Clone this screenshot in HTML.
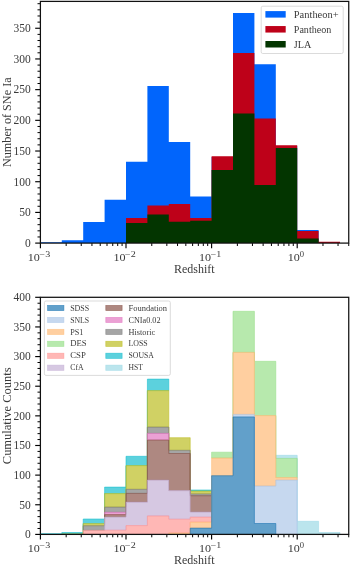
<!DOCTYPE html><html><head><meta charset="utf-8"><title>SNe Ia redshift histograms</title>
<style>html,body{margin:0;padding:0;background:#fff}svg{display:block}text{font-family:"Liberation Serif","DejaVu Serif",serif;fill:#3a3a3a}</style></head><body>
<svg width="350" height="566" viewBox="0 0 350 566">
<rect width="350" height="566" fill="#fff"/>
<path d="M40.40 243.10 L40.40 242.30 L61.80 242.30 L61.80 240.30 L83.20 240.30 L83.20 222.00 L104.60 222.00 L104.60 199.70 L126.00 199.70 L126.00 161.70 L147.40 161.70 L147.40 86.00 L168.80 86.00 L168.80 142.00 L190.20 142.00 L190.20 196.60 L211.60 196.60 L211.60 157.00 L233.00 157.00 L233.00 12.90 L254.40 12.90 L254.40 64.30 L275.80 64.30 L275.80 146.00 L297.20 146.00 L297.20 229.90 L318.60 229.90 L318.60 241.90 L340.00 241.90 L340.00 243.10Z" fill="#0165fc" />
<path d="M126.00 243.10 L126.00 217.90 L147.40 217.90 L147.40 205.40 L168.80 205.40 L168.80 203.90 L190.20 203.90 L190.20 217.90 L211.60 217.90 L211.60 156.30 L233.00 156.30 L233.00 52.90 L254.40 52.90 L254.40 118.60 L275.80 118.60 L275.80 145.30 L297.20 145.30 L297.20 231.00 L318.60 231.00 L318.60 241.70 L340.00 241.70 L340.00 243.10Z" fill="#be0119" />
<path d="M126.00 243.10 L126.00 223.10 L147.40 223.10 L147.40 214.60 L168.80 214.60 L168.80 221.80 L190.20 221.80 L190.20 220.70 L211.60 220.70 L211.60 170.00 L233.00 170.00 L233.00 113.50 L254.40 113.50 L254.40 184.90 L275.80 184.90 L275.80 148.10 L297.20 148.10 L297.20 238.40 L318.60 238.40 L318.60 243.10Z" fill="#033500" />
<line x1="35.20" x2="40.40" y1="243.10" y2="243.10" stroke="#000" stroke-width="1.15"/><line x1="37.50" x2="40.40" y1="236.96" y2="236.96" stroke="#000" stroke-width="1.0"/><line x1="37.50" x2="40.40" y1="230.82" y2="230.82" stroke="#000" stroke-width="1.0"/><line x1="37.50" x2="40.40" y1="224.68" y2="224.68" stroke="#000" stroke-width="1.0"/><line x1="37.50" x2="40.40" y1="218.55" y2="218.55" stroke="#000" stroke-width="1.0"/><line x1="35.20" x2="40.40" y1="212.41" y2="212.41" stroke="#000" stroke-width="1.15"/><line x1="37.50" x2="40.40" y1="206.27" y2="206.27" stroke="#000" stroke-width="1.0"/><line x1="37.50" x2="40.40" y1="200.13" y2="200.13" stroke="#000" stroke-width="1.0"/><line x1="37.50" x2="40.40" y1="193.99" y2="193.99" stroke="#000" stroke-width="1.0"/><line x1="37.50" x2="40.40" y1="187.85" y2="187.85" stroke="#000" stroke-width="1.0"/><line x1="35.20" x2="40.40" y1="181.72" y2="181.72" stroke="#000" stroke-width="1.15"/><line x1="37.50" x2="40.40" y1="175.58" y2="175.58" stroke="#000" stroke-width="1.0"/><line x1="37.50" x2="40.40" y1="169.44" y2="169.44" stroke="#000" stroke-width="1.0"/><line x1="37.50" x2="40.40" y1="163.30" y2="163.30" stroke="#000" stroke-width="1.0"/><line x1="37.50" x2="40.40" y1="157.16" y2="157.16" stroke="#000" stroke-width="1.0"/><line x1="35.20" x2="40.40" y1="151.02" y2="151.02" stroke="#000" stroke-width="1.15"/><line x1="37.50" x2="40.40" y1="144.89" y2="144.89" stroke="#000" stroke-width="1.0"/><line x1="37.50" x2="40.40" y1="138.75" y2="138.75" stroke="#000" stroke-width="1.0"/><line x1="37.50" x2="40.40" y1="132.61" y2="132.61" stroke="#000" stroke-width="1.0"/><line x1="37.50" x2="40.40" y1="126.47" y2="126.47" stroke="#000" stroke-width="1.0"/><line x1="35.20" x2="40.40" y1="120.33" y2="120.33" stroke="#000" stroke-width="1.15"/><line x1="37.50" x2="40.40" y1="114.19" y2="114.19" stroke="#000" stroke-width="1.0"/><line x1="37.50" x2="40.40" y1="108.05" y2="108.05" stroke="#000" stroke-width="1.0"/><line x1="37.50" x2="40.40" y1="101.92" y2="101.92" stroke="#000" stroke-width="1.0"/><line x1="37.50" x2="40.40" y1="95.78" y2="95.78" stroke="#000" stroke-width="1.0"/><line x1="35.20" x2="40.40" y1="89.64" y2="89.64" stroke="#000" stroke-width="1.15"/><line x1="37.50" x2="40.40" y1="83.50" y2="83.50" stroke="#000" stroke-width="1.0"/><line x1="37.50" x2="40.40" y1="77.36" y2="77.36" stroke="#000" stroke-width="1.0"/><line x1="37.50" x2="40.40" y1="71.22" y2="71.22" stroke="#000" stroke-width="1.0"/><line x1="37.50" x2="40.40" y1="65.09" y2="65.09" stroke="#000" stroke-width="1.0"/><line x1="35.20" x2="40.40" y1="58.95" y2="58.95" stroke="#000" stroke-width="1.15"/><line x1="37.50" x2="40.40" y1="52.81" y2="52.81" stroke="#000" stroke-width="1.0"/><line x1="37.50" x2="40.40" y1="46.67" y2="46.67" stroke="#000" stroke-width="1.0"/><line x1="37.50" x2="40.40" y1="40.53" y2="40.53" stroke="#000" stroke-width="1.0"/><line x1="37.50" x2="40.40" y1="34.39" y2="34.39" stroke="#000" stroke-width="1.0"/><line x1="35.20" x2="40.40" y1="28.26" y2="28.26" stroke="#000" stroke-width="1.15"/><line x1="37.50" x2="40.40" y1="22.12" y2="22.12" stroke="#000" stroke-width="1.0"/><line x1="37.50" x2="40.40" y1="15.98" y2="15.98" stroke="#000" stroke-width="1.0"/><line x1="37.50" x2="40.40" y1="9.84" y2="9.84" stroke="#000" stroke-width="1.0"/><line x1="37.50" x2="40.40" y1="3.70" y2="3.70" stroke="#000" stroke-width="1.0"/><line x1="40.40" x2="40.40" y1="243.10" y2="248.30" stroke="#000" stroke-width="1.15"/><line x1="66.17" x2="66.17" y1="243.10" y2="246.00" stroke="#000" stroke-width="1.0"/><line x1="81.24" x2="81.24" y1="243.10" y2="246.00" stroke="#000" stroke-width="1.0"/><line x1="91.94" x2="91.94" y1="243.10" y2="246.00" stroke="#000" stroke-width="1.0"/><line x1="100.23" x2="100.23" y1="243.10" y2="246.00" stroke="#000" stroke-width="1.0"/><line x1="107.01" x2="107.01" y1="243.10" y2="246.00" stroke="#000" stroke-width="1.0"/><line x1="112.74" x2="112.74" y1="243.10" y2="246.00" stroke="#000" stroke-width="1.0"/><line x1="117.70" x2="117.70" y1="243.10" y2="246.00" stroke="#000" stroke-width="1.0"/><line x1="122.08" x2="122.08" y1="243.10" y2="246.00" stroke="#000" stroke-width="1.0"/><line x1="126.00" x2="126.00" y1="243.10" y2="248.30" stroke="#000" stroke-width="1.15"/><line x1="151.77" x2="151.77" y1="243.10" y2="246.00" stroke="#000" stroke-width="1.0"/><line x1="166.84" x2="166.84" y1="243.10" y2="246.00" stroke="#000" stroke-width="1.0"/><line x1="177.54" x2="177.54" y1="243.10" y2="246.00" stroke="#000" stroke-width="1.0"/><line x1="185.83" x2="185.83" y1="243.10" y2="246.00" stroke="#000" stroke-width="1.0"/><line x1="192.61" x2="192.61" y1="243.10" y2="246.00" stroke="#000" stroke-width="1.0"/><line x1="198.34" x2="198.34" y1="243.10" y2="246.00" stroke="#000" stroke-width="1.0"/><line x1="203.30" x2="203.30" y1="243.10" y2="246.00" stroke="#000" stroke-width="1.0"/><line x1="207.68" x2="207.68" y1="243.10" y2="246.00" stroke="#000" stroke-width="1.0"/><line x1="211.60" x2="211.60" y1="243.10" y2="248.30" stroke="#000" stroke-width="1.15"/><line x1="237.37" x2="237.37" y1="243.10" y2="246.00" stroke="#000" stroke-width="1.0"/><line x1="252.44" x2="252.44" y1="243.10" y2="246.00" stroke="#000" stroke-width="1.0"/><line x1="263.14" x2="263.14" y1="243.10" y2="246.00" stroke="#000" stroke-width="1.0"/><line x1="271.43" x2="271.43" y1="243.10" y2="246.00" stroke="#000" stroke-width="1.0"/><line x1="278.21" x2="278.21" y1="243.10" y2="246.00" stroke="#000" stroke-width="1.0"/><line x1="283.94" x2="283.94" y1="243.10" y2="246.00" stroke="#000" stroke-width="1.0"/><line x1="288.90" x2="288.90" y1="243.10" y2="246.00" stroke="#000" stroke-width="1.0"/><line x1="293.28" x2="293.28" y1="243.10" y2="246.00" stroke="#000" stroke-width="1.0"/><line x1="297.20" x2="297.20" y1="243.10" y2="248.30" stroke="#000" stroke-width="1.15"/><line x1="322.97" x2="322.97" y1="243.10" y2="246.00" stroke="#000" stroke-width="1.0"/><line x1="338.04" x2="338.04" y1="243.10" y2="246.00" stroke="#000" stroke-width="1.0"/><line x1="348.74" x2="348.74" y1="243.10" y2="246.00" stroke="#000" stroke-width="1.0"/><rect x="40.40" y="1.40" width="308.34" height="241.70" fill="none" stroke="#111" stroke-width="1.25"/><text x="30.70" y="246.95" font-size="11.5" text-anchor="end">0</text><text x="30.70" y="216.26" font-size="11.5" text-anchor="end">50</text><text x="30.70" y="185.57" font-size="11.5" text-anchor="end">100</text><text x="30.70" y="154.87" font-size="11.5" text-anchor="end">150</text><text x="30.70" y="124.18" font-size="11.5" text-anchor="end">200</text><text x="30.70" y="93.49" font-size="11.5" text-anchor="end">250</text><text x="30.70" y="62.80" font-size="11.5" text-anchor="end">300</text><text x="30.70" y="32.11" font-size="11.5" text-anchor="end">350</text><text x="27.80" y="260.60" font-size="11" textLength="12.1" lengthAdjust="spacingAndGlyphs">10</text><text x="39.50" y="257.00" font-size="8.6" textLength="10.7" lengthAdjust="spacingAndGlyphs">−3</text><text x="113.40" y="260.60" font-size="11" textLength="12.1" lengthAdjust="spacingAndGlyphs">10</text><text x="125.10" y="257.00" font-size="8.6" textLength="10.7" lengthAdjust="spacingAndGlyphs">−2</text><text x="199.00" y="260.60" font-size="11" textLength="12.1" lengthAdjust="spacingAndGlyphs">10</text><text x="210.70" y="257.00" font-size="8.6" textLength="10.7" lengthAdjust="spacingAndGlyphs">−1</text><text x="287.70" y="260.60" font-size="11" textLength="12.1" lengthAdjust="spacingAndGlyphs">10</text><text x="299.70" y="257.00" font-size="8.6">0</text><text x="194.27" y="272.80" font-size="11.6" text-anchor="middle" textLength="40.6" lengthAdjust="spacingAndGlyphs">Redshift</text><text transform="translate(10.7 122.25) rotate(-90)" font-size="11.6" text-anchor="middle" textLength="89.7" lengthAdjust="spacingAndGlyphs">Number of SNe Ia</text>
<rect x="261.2" y="6.2" width="82" height="47.3" rx="1.6" fill="#fff" fill-opacity="0.8" stroke="#d2d2d2" stroke-width="0.8"/>
<rect x="265.4" y="11.10" width="20.3" height="6.5" fill="#0165fc"/>
<text x="293.8" y="17.60" font-size="9.5" textLength="44.8" lengthAdjust="spacingAndGlyphs">Pantheon+</text>
<rect x="265.4" y="26.05" width="20.3" height="6.5" fill="#be0119"/>
<text x="293.8" y="32.55" font-size="9.5" textLength="37.5" lengthAdjust="spacingAndGlyphs">Pantheon</text>
<rect x="265.4" y="41.00" width="20.3" height="6.5" fill="#033500"/>
<text x="293.8" y="47.50" font-size="9.5" textLength="17.5" lengthAdjust="spacingAndGlyphs">JLA</text>
<path d="M275.80 458.40 L275.80 455.30 L297.20 455.30 L297.20 521.30 L318.60 521.30 L318.60 532.50 L340.00 532.50 L340.00 534.40 L318.60 534.40 L318.60 534.40 L297.20 534.40 L297.20 458.40 L275.80 458.40Z" fill="#9edae5" fill-opacity="0.7" stroke="#9edae5" stroke-opacity="0.7" stroke-width="0.8" stroke-linejoin="miter"/>
<path d="M40.40 534.40 L40.40 533.70 L61.80 533.70 L61.80 532.50 L83.20 532.50 L83.20 519.00 L104.60 519.00 L104.60 487.10 L126.00 487.10 L126.00 456.30 L147.40 456.30 L147.40 379.10 L168.80 379.10 L168.80 390.60 L147.40 390.60 L147.40 465.60 L126.00 465.60 L126.00 493.60 L104.60 493.60 L104.60 523.60 L83.20 523.60 L83.20 533.90 L61.80 533.90 L61.80 534.40 L40.40 534.40Z" fill="#17becf" fill-opacity="0.7" stroke="#17becf" stroke-opacity="0.7" stroke-width="0.8" stroke-linejoin="miter"/>
<path d="M190.20 491.00 L190.20 490.00 L211.60 490.00 L211.60 491.00 L190.20 491.00Z" fill="#17becf" fill-opacity="0.7" stroke="#17becf" stroke-opacity="0.7" stroke-width="0.8" stroke-linejoin="miter"/>
<path d="M61.80 534.40 L61.80 533.90 L83.20 533.90 L83.20 523.60 L104.60 523.60 L104.60 493.60 L126.00 493.60 L126.00 465.60 L147.40 465.60 L147.40 390.60 L168.80 390.60 L168.80 437.70 L190.20 437.70 L190.20 491.00 L211.60 491.00 L211.60 493.90 L190.20 493.90 L190.20 450.30 L168.80 450.30 L168.80 427.10 L147.40 427.10 L147.40 489.30 L126.00 489.30 L126.00 507.10 L104.60 507.10 L104.60 525.70 L83.20 525.70 L83.20 534.40 L61.80 534.40Z" fill="#bcbd22" fill-opacity="0.7" stroke="#bcbd22" stroke-opacity="0.7" stroke-width="0.8" stroke-linejoin="miter"/>
<path d="M83.20 530.40 L83.20 525.70 L104.60 525.70 L104.60 507.10 L126.00 507.10 L126.00 489.30 L147.40 489.30 L147.40 427.10 L168.80 427.10 L168.80 450.30 L190.20 450.30 L190.20 493.90 L211.60 493.90 L211.60 495.70 L190.20 495.70 L190.20 453.50 L168.80 453.50 L168.80 433.40 L147.40 433.40 L147.40 493.40 L126.00 493.40 L126.00 512.30 L104.60 512.30 L104.60 530.40 L83.20 530.40Z" fill="#7f7f7f" fill-opacity="0.7" stroke="#7f7f7f" stroke-opacity="0.7" stroke-width="0.8" stroke-linejoin="miter"/>
<path d="M104.60 514.60 L104.60 512.30 L126.00 512.30 L126.00 514.60 L104.60 514.60Z" fill="#e377c2" fill-opacity="0.7" stroke="#e377c2" stroke-opacity="0.7" stroke-width="0.8" stroke-linejoin="miter"/>
<path d="M147.40 440.00 L147.40 433.40 L168.80 433.40 L168.80 440.00 L147.40 440.00Z" fill="#e377c2" fill-opacity="0.7" stroke="#e377c2" stroke-opacity="0.7" stroke-width="0.8" stroke-linejoin="miter"/>
<path d="M104.60 517.00 L104.60 514.60 L126.00 514.60 L126.00 493.40 L147.40 493.40 L147.40 440.00 L168.80 440.00 L168.80 453.50 L190.20 453.50 L190.20 495.70 L211.60 495.70 L211.60 511.90 L190.20 511.90 L190.20 490.60 L168.80 490.60 L168.80 480.00 L147.40 480.00 L147.40 502.10 L126.00 502.10 L126.00 517.00 L104.60 517.00Z" fill="#8c564b" fill-opacity="0.7" stroke="#8c564b" stroke-opacity="0.7" stroke-width="0.8" stroke-linejoin="miter"/>
<path d="M104.60 530.20 L104.60 517.00 L126.00 517.00 L126.00 502.10 L147.40 502.10 L147.40 480.00 L168.80 480.00 L168.80 490.60 L190.20 490.60 L190.20 511.90 L211.60 511.90 L211.60 517.10 L190.20 517.10 L190.20 519.20 L168.80 519.20 L168.80 515.90 L147.40 515.90 L147.40 525.60 L126.00 525.60 L126.00 530.20 L104.60 530.20Z" fill="#c5b0d5" fill-opacity="0.7" stroke="#c5b0d5" stroke-opacity="0.7" stroke-width="0.8" stroke-linejoin="miter"/>
<path d="M83.20 534.40 L83.20 530.40 L104.60 530.40 L104.60 530.20 L126.00 530.20 L126.00 525.60 L147.40 525.60 L147.40 515.90 L168.80 515.90 L168.80 519.20 L190.20 519.20 L190.20 517.10 L211.60 517.10 L211.60 522.10 L190.20 522.10 L190.20 533.00 L168.80 533.00 L168.80 534.40 L147.40 534.40 L147.40 534.40 L126.00 534.40 L126.00 534.40 L104.60 534.40 L104.60 534.40 L83.20 534.40Z" fill="#ff9896" fill-opacity="0.7" stroke="#ff9896" stroke-opacity="0.7" stroke-width="0.8" stroke-linejoin="miter"/>
<path d="M211.60 458.00 L211.60 452.20 L233.00 452.20 L233.00 311.30 L254.40 311.30 L254.40 361.30 L275.80 361.30 L275.80 458.40 L297.20 458.40 L297.20 477.60 L275.80 477.60 L275.80 415.60 L254.40 415.60 L254.40 352.40 L233.00 352.40 L233.00 458.00 L211.60 458.00Z" fill="#98df8a" fill-opacity="0.7" stroke="#98df8a" stroke-opacity="0.7" stroke-width="0.8" stroke-linejoin="miter"/>
<path d="M168.80 534.40 L168.80 533.00 L190.20 533.00 L190.20 522.10 L211.60 522.10 L211.60 458.00 L233.00 458.00 L233.00 352.40 L254.40 352.40 L254.40 415.60 L275.80 415.60 L275.80 477.60 L297.20 477.60 L297.20 480.10 L275.80 480.10 L275.80 486.00 L254.40 486.00 L254.40 414.40 L233.00 414.40 L233.00 475.70 L211.60 475.70 L211.60 528.10 L190.20 528.10 L190.20 534.40 L168.80 534.40Z" fill="#ffbb78" fill-opacity="0.7" stroke="#ffbb78" stroke-opacity="0.7" stroke-width="0.8" stroke-linejoin="miter"/>
<path d="M233.00 416.90 L233.00 414.40 L254.40 414.40 L254.40 486.00 L275.80 486.00 L275.80 480.10 L297.20 480.10 L297.20 534.40 L275.80 534.40 L275.80 523.50 L254.40 523.50 L254.40 416.90 L233.00 416.90Z" fill="#aec7e8" fill-opacity="0.7" stroke="#aec7e8" stroke-opacity="0.7" stroke-width="0.8" stroke-linejoin="miter"/>
<path d="M190.20 534.40 L190.20 528.10 L211.60 528.10 L211.60 475.70 L233.00 475.70 L233.00 416.90 L254.40 416.90 L254.40 523.50 L275.80 523.50 L275.80 534.40 L254.40 534.40 L254.40 534.40 L233.00 534.40 L233.00 534.40 L211.60 534.40 L211.60 534.40 L190.20 534.40Z" fill="#1f77b4" fill-opacity="0.7" stroke="#1f77b4" stroke-opacity="0.7" stroke-width="0.8" stroke-linejoin="miter"/>
<line x1="35.20" x2="40.40" y1="534.40" y2="534.40" stroke="#000" stroke-width="1.15"/><line x1="37.50" x2="40.40" y1="528.47" y2="528.47" stroke="#000" stroke-width="1.0"/><line x1="37.50" x2="40.40" y1="522.54" y2="522.54" stroke="#000" stroke-width="1.0"/><line x1="37.50" x2="40.40" y1="516.62" y2="516.62" stroke="#000" stroke-width="1.0"/><line x1="37.50" x2="40.40" y1="510.69" y2="510.69" stroke="#000" stroke-width="1.0"/><line x1="35.20" x2="40.40" y1="504.76" y2="504.76" stroke="#000" stroke-width="1.15"/><line x1="37.50" x2="40.40" y1="498.83" y2="498.83" stroke="#000" stroke-width="1.0"/><line x1="37.50" x2="40.40" y1="492.91" y2="492.91" stroke="#000" stroke-width="1.0"/><line x1="37.50" x2="40.40" y1="486.98" y2="486.98" stroke="#000" stroke-width="1.0"/><line x1="37.50" x2="40.40" y1="481.05" y2="481.05" stroke="#000" stroke-width="1.0"/><line x1="35.20" x2="40.40" y1="475.12" y2="475.12" stroke="#000" stroke-width="1.15"/><line x1="37.50" x2="40.40" y1="469.20" y2="469.20" stroke="#000" stroke-width="1.0"/><line x1="37.50" x2="40.40" y1="463.27" y2="463.27" stroke="#000" stroke-width="1.0"/><line x1="37.50" x2="40.40" y1="457.34" y2="457.34" stroke="#000" stroke-width="1.0"/><line x1="37.50" x2="40.40" y1="451.41" y2="451.41" stroke="#000" stroke-width="1.0"/><line x1="35.20" x2="40.40" y1="445.49" y2="445.49" stroke="#000" stroke-width="1.15"/><line x1="37.50" x2="40.40" y1="439.56" y2="439.56" stroke="#000" stroke-width="1.0"/><line x1="37.50" x2="40.40" y1="433.63" y2="433.63" stroke="#000" stroke-width="1.0"/><line x1="37.50" x2="40.40" y1="427.70" y2="427.70" stroke="#000" stroke-width="1.0"/><line x1="37.50" x2="40.40" y1="421.78" y2="421.78" stroke="#000" stroke-width="1.0"/><line x1="35.20" x2="40.40" y1="415.85" y2="415.85" stroke="#000" stroke-width="1.15"/><line x1="37.50" x2="40.40" y1="409.92" y2="409.92" stroke="#000" stroke-width="1.0"/><line x1="37.50" x2="40.40" y1="404.00" y2="404.00" stroke="#000" stroke-width="1.0"/><line x1="37.50" x2="40.40" y1="398.07" y2="398.07" stroke="#000" stroke-width="1.0"/><line x1="37.50" x2="40.40" y1="392.14" y2="392.14" stroke="#000" stroke-width="1.0"/><line x1="35.20" x2="40.40" y1="386.21" y2="386.21" stroke="#000" stroke-width="1.15"/><line x1="37.50" x2="40.40" y1="380.28" y2="380.28" stroke="#000" stroke-width="1.0"/><line x1="37.50" x2="40.40" y1="374.36" y2="374.36" stroke="#000" stroke-width="1.0"/><line x1="37.50" x2="40.40" y1="368.43" y2="368.43" stroke="#000" stroke-width="1.0"/><line x1="37.50" x2="40.40" y1="362.50" y2="362.50" stroke="#000" stroke-width="1.0"/><line x1="35.20" x2="40.40" y1="356.58" y2="356.58" stroke="#000" stroke-width="1.15"/><line x1="37.50" x2="40.40" y1="350.65" y2="350.65" stroke="#000" stroke-width="1.0"/><line x1="37.50" x2="40.40" y1="344.72" y2="344.72" stroke="#000" stroke-width="1.0"/><line x1="37.50" x2="40.40" y1="338.79" y2="338.79" stroke="#000" stroke-width="1.0"/><line x1="37.50" x2="40.40" y1="332.87" y2="332.87" stroke="#000" stroke-width="1.0"/><line x1="35.20" x2="40.40" y1="326.94" y2="326.94" stroke="#000" stroke-width="1.15"/><line x1="37.50" x2="40.40" y1="321.01" y2="321.01" stroke="#000" stroke-width="1.0"/><line x1="37.50" x2="40.40" y1="315.08" y2="315.08" stroke="#000" stroke-width="1.0"/><line x1="37.50" x2="40.40" y1="309.16" y2="309.16" stroke="#000" stroke-width="1.0"/><line x1="37.50" x2="40.40" y1="303.23" y2="303.23" stroke="#000" stroke-width="1.0"/><line x1="35.20" x2="40.40" y1="297.30" y2="297.30" stroke="#000" stroke-width="1.15"/><line x1="40.40" x2="40.40" y1="534.40" y2="539.60" stroke="#000" stroke-width="1.15"/><line x1="66.17" x2="66.17" y1="534.40" y2="537.30" stroke="#000" stroke-width="1.0"/><line x1="81.24" x2="81.24" y1="534.40" y2="537.30" stroke="#000" stroke-width="1.0"/><line x1="91.94" x2="91.94" y1="534.40" y2="537.30" stroke="#000" stroke-width="1.0"/><line x1="100.23" x2="100.23" y1="534.40" y2="537.30" stroke="#000" stroke-width="1.0"/><line x1="107.01" x2="107.01" y1="534.40" y2="537.30" stroke="#000" stroke-width="1.0"/><line x1="112.74" x2="112.74" y1="534.40" y2="537.30" stroke="#000" stroke-width="1.0"/><line x1="117.70" x2="117.70" y1="534.40" y2="537.30" stroke="#000" stroke-width="1.0"/><line x1="122.08" x2="122.08" y1="534.40" y2="537.30" stroke="#000" stroke-width="1.0"/><line x1="126.00" x2="126.00" y1="534.40" y2="539.60" stroke="#000" stroke-width="1.15"/><line x1="151.77" x2="151.77" y1="534.40" y2="537.30" stroke="#000" stroke-width="1.0"/><line x1="166.84" x2="166.84" y1="534.40" y2="537.30" stroke="#000" stroke-width="1.0"/><line x1="177.54" x2="177.54" y1="534.40" y2="537.30" stroke="#000" stroke-width="1.0"/><line x1="185.83" x2="185.83" y1="534.40" y2="537.30" stroke="#000" stroke-width="1.0"/><line x1="192.61" x2="192.61" y1="534.40" y2="537.30" stroke="#000" stroke-width="1.0"/><line x1="198.34" x2="198.34" y1="534.40" y2="537.30" stroke="#000" stroke-width="1.0"/><line x1="203.30" x2="203.30" y1="534.40" y2="537.30" stroke="#000" stroke-width="1.0"/><line x1="207.68" x2="207.68" y1="534.40" y2="537.30" stroke="#000" stroke-width="1.0"/><line x1="211.60" x2="211.60" y1="534.40" y2="539.60" stroke="#000" stroke-width="1.15"/><line x1="237.37" x2="237.37" y1="534.40" y2="537.30" stroke="#000" stroke-width="1.0"/><line x1="252.44" x2="252.44" y1="534.40" y2="537.30" stroke="#000" stroke-width="1.0"/><line x1="263.14" x2="263.14" y1="534.40" y2="537.30" stroke="#000" stroke-width="1.0"/><line x1="271.43" x2="271.43" y1="534.40" y2="537.30" stroke="#000" stroke-width="1.0"/><line x1="278.21" x2="278.21" y1="534.40" y2="537.30" stroke="#000" stroke-width="1.0"/><line x1="283.94" x2="283.94" y1="534.40" y2="537.30" stroke="#000" stroke-width="1.0"/><line x1="288.90" x2="288.90" y1="534.40" y2="537.30" stroke="#000" stroke-width="1.0"/><line x1="293.28" x2="293.28" y1="534.40" y2="537.30" stroke="#000" stroke-width="1.0"/><line x1="297.20" x2="297.20" y1="534.40" y2="539.60" stroke="#000" stroke-width="1.15"/><line x1="322.97" x2="322.97" y1="534.40" y2="537.30" stroke="#000" stroke-width="1.0"/><line x1="338.04" x2="338.04" y1="534.40" y2="537.30" stroke="#000" stroke-width="1.0"/><line x1="348.74" x2="348.74" y1="534.40" y2="537.30" stroke="#000" stroke-width="1.0"/><rect x="40.40" y="297.30" width="308.34" height="237.10" fill="none" stroke="#111" stroke-width="1.25"/><text x="30.70" y="538.25" font-size="11.5" text-anchor="end">0</text><text x="30.70" y="508.61" font-size="11.5" text-anchor="end">50</text><text x="30.70" y="478.98" font-size="11.5" text-anchor="end">100</text><text x="30.70" y="449.34" font-size="11.5" text-anchor="end">150</text><text x="30.70" y="419.70" font-size="11.5" text-anchor="end">200</text><text x="30.70" y="390.06" font-size="11.5" text-anchor="end">250</text><text x="30.70" y="360.43" font-size="11.5" text-anchor="end">300</text><text x="30.70" y="330.79" font-size="11.5" text-anchor="end">350</text><text x="30.70" y="301.15" font-size="11.5" text-anchor="end">400</text><text x="27.80" y="551.90" font-size="11" textLength="12.1" lengthAdjust="spacingAndGlyphs">10</text><text x="39.50" y="548.30" font-size="8.6" textLength="10.7" lengthAdjust="spacingAndGlyphs">−3</text><text x="113.40" y="551.90" font-size="11" textLength="12.1" lengthAdjust="spacingAndGlyphs">10</text><text x="125.10" y="548.30" font-size="8.6" textLength="10.7" lengthAdjust="spacingAndGlyphs">−2</text><text x="199.00" y="551.90" font-size="11" textLength="12.1" lengthAdjust="spacingAndGlyphs">10</text><text x="210.70" y="548.30" font-size="8.6" textLength="10.7" lengthAdjust="spacingAndGlyphs">−1</text><text x="287.70" y="551.90" font-size="11" textLength="12.1" lengthAdjust="spacingAndGlyphs">10</text><text x="299.70" y="548.30" font-size="8.6">0</text><text x="194.27" y="564.10" font-size="11.6" text-anchor="middle" textLength="40.6" lengthAdjust="spacingAndGlyphs">Redshift</text><text transform="translate(10.7 415.85) rotate(-90)" font-size="11.6" text-anchor="middle" textLength="96.7" lengthAdjust="spacingAndGlyphs">Cumulative Counts</text>
<rect x="44.4" y="301" width="125.9" height="74.4" rx="1.6" fill="#fff" fill-opacity="0.8" stroke="#d2d2d2" stroke-width="0.8"/>
<rect x="47.6" y="305.40" width="16.3" height="5.2" fill="#1f77b4" fill-opacity="0.7" stroke="#1f77b4" stroke-opacity="0.7" stroke-width="0.7"/>
<text x="70.2" y="310.60" font-size="8" textLength="19" lengthAdjust="spacingAndGlyphs">SDSS</text>
<rect x="47.6" y="317.35" width="16.3" height="5.2" fill="#aec7e8" fill-opacity="0.7" stroke="#aec7e8" stroke-opacity="0.7" stroke-width="0.7"/>
<text x="70.2" y="322.55" font-size="8" textLength="19" lengthAdjust="spacingAndGlyphs">SNLS</text>
<rect x="47.6" y="329.30" width="16.3" height="5.2" fill="#ffbb78" fill-opacity="0.7" stroke="#ffbb78" stroke-opacity="0.7" stroke-width="0.7"/>
<text x="70.2" y="334.50" font-size="8" textLength="13.2" lengthAdjust="spacingAndGlyphs">PS1</text>
<rect x="47.6" y="341.25" width="16.3" height="5.2" fill="#98df8a" fill-opacity="0.7" stroke="#98df8a" stroke-opacity="0.7" stroke-width="0.7"/>
<text x="70.2" y="346.45" font-size="8" textLength="16.4" lengthAdjust="spacingAndGlyphs">DES</text>
<rect x="47.6" y="353.20" width="16.3" height="5.2" fill="#ff9896" fill-opacity="0.7" stroke="#ff9896" stroke-opacity="0.7" stroke-width="0.7"/>
<text x="70.2" y="358.40" font-size="8" textLength="15.6" lengthAdjust="spacingAndGlyphs">CSP</text>
<rect x="47.6" y="365.15" width="16.3" height="5.2" fill="#c5b0d5" fill-opacity="0.7" stroke="#c5b0d5" stroke-opacity="0.7" stroke-width="0.7"/>
<text x="70.2" y="370.35" font-size="8" textLength="13.4" lengthAdjust="spacingAndGlyphs">CfA</text>
<rect x="105.8" y="305.40" width="16.3" height="5.2" fill="#8c564b" fill-opacity="0.7" stroke="#8c564b" stroke-opacity="0.7" stroke-width="0.7"/>
<text x="128.5" y="310.60" font-size="8" textLength="38.6" lengthAdjust="spacingAndGlyphs">Foundation</text>
<rect x="105.8" y="317.35" width="16.3" height="5.2" fill="#e377c2" fill-opacity="0.7" stroke="#e377c2" stroke-opacity="0.7" stroke-width="0.7"/>
<text x="128.5" y="322.55" font-size="8" textLength="32" lengthAdjust="spacingAndGlyphs">CNIa0.02</text>
<rect x="105.8" y="329.30" width="16.3" height="5.2" fill="#7f7f7f" fill-opacity="0.7" stroke="#7f7f7f" stroke-opacity="0.7" stroke-width="0.7"/>
<text x="128.5" y="334.50" font-size="8" textLength="26.6" lengthAdjust="spacingAndGlyphs">Historic</text>
<rect x="105.8" y="341.25" width="16.3" height="5.2" fill="#bcbd22" fill-opacity="0.7" stroke="#bcbd22" stroke-opacity="0.7" stroke-width="0.7"/>
<text x="128.5" y="346.45" font-size="8" textLength="19.2" lengthAdjust="spacingAndGlyphs">LOSS</text>
<rect x="105.8" y="353.20" width="16.3" height="5.2" fill="#17becf" fill-opacity="0.7" stroke="#17becf" stroke-opacity="0.7" stroke-width="0.7"/>
<text x="128.5" y="358.40" font-size="8" textLength="25.4" lengthAdjust="spacingAndGlyphs">SOUSA</text>
<rect x="105.8" y="365.15" width="16.3" height="5.2" fill="#9edae5" fill-opacity="0.7" stroke="#9edae5" stroke-opacity="0.7" stroke-width="0.7"/>
<text x="128.5" y="370.35" font-size="8" textLength="14.4" lengthAdjust="spacingAndGlyphs">HST</text>
</svg></body></html>
